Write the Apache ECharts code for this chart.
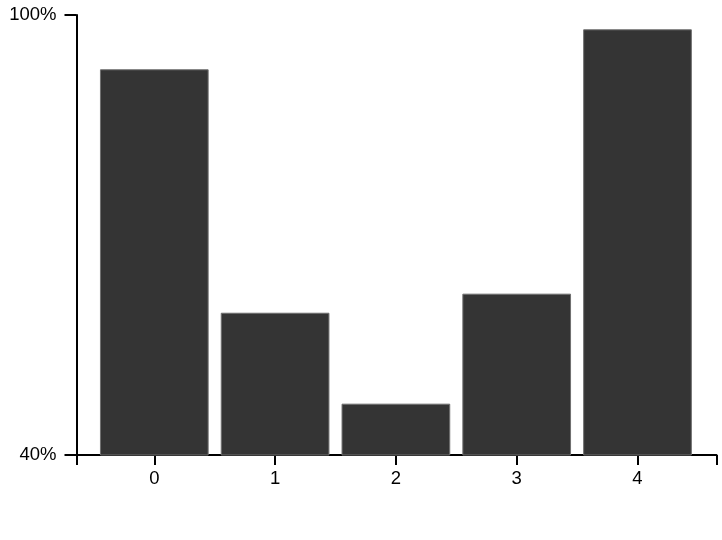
<!DOCTYPE html>
<html>
<head>
<meta charset="utf-8">
<script src="https://cdn.jsdelivr.net/npm/echarts@6/dist/echarts.min.js"></script>
<style>
  html, body { margin: 0; padding: 0; background: #fff; }
  #chart { width: 722px; height: 540px; }
</style>
</head>
<body>
<div id="chart"></div>
<script>
// 数据
const categories = ['0', '1', '2', '3', '4'];
const values = [92.6, 59.4, 47.0, 62.0, 98.05];
const yTicks = [40, 100];

// x 轴范围（带外边距的带状刻度）
const xMin = -0.644;
const xMax = 4.654;

document.addEventListener('DOMContentLoaded', function() {
    const chart = echarts.init(document.getElementById('chart'));

    const fontFamily = '"Liberation Sans", Arial, Helvetica, sans-serif';
    const axisLineStyle = { color: '#000', width: 2 };

    const option = {
        animation: false,
        grid: {
            left: 76.5,
            top: 15,
            width: 640,
            height: 440
        },
        xAxis: {
            type: 'value',
            min: xMin,
            max: xMax,
            splitLine: { show: false },
            axisLine: { onZero: false, lineStyle: axisLineStyle },
            axisTick: {
                length: 10,
                customValues: [xMin].concat(categories.map((c, i) => i), [xMax]),
                lineStyle: axisLineStyle
            },
            axisLabel: {
                customValues: categories.map((c, i) => i),
                formatter: function(v) { return categories[Math.round(v)]; },
                color: '#000',
                fontSize: 18.5,
                fontFamily: fontFamily,
                margin: 14
            }
        },
        yAxis: {
            type: 'value',
            min: yTicks[0],
            max: yTicks[yTicks.length - 1],
            splitLine: { show: false },
            axisLine: { show: true, onZero: false, lineStyle: axisLineStyle },
            axisTick: {
                show: true,
                length: 12,
                customValues: yTicks,
                lineStyle: axisLineStyle
            },
            axisLabel: {
                customValues: yTicks,
                formatter: '{value}%',
                color: '#000',
                fontSize: 18.5,
                fontFamily: fontFamily,
                margin: 20
            }
        },
        series: [
            {
                type: 'bar',
                barWidth: 108.7,
                clip: true,
                data: categories.map((c, i) => [i, values[i]]),
                itemStyle: {
                    color: '#343434',
                    borderColor: '#707070',
                    borderWidth: 1
                }
            }
        ]
    };

    chart.setOption(option);
});
</script>
</body>
</html>
